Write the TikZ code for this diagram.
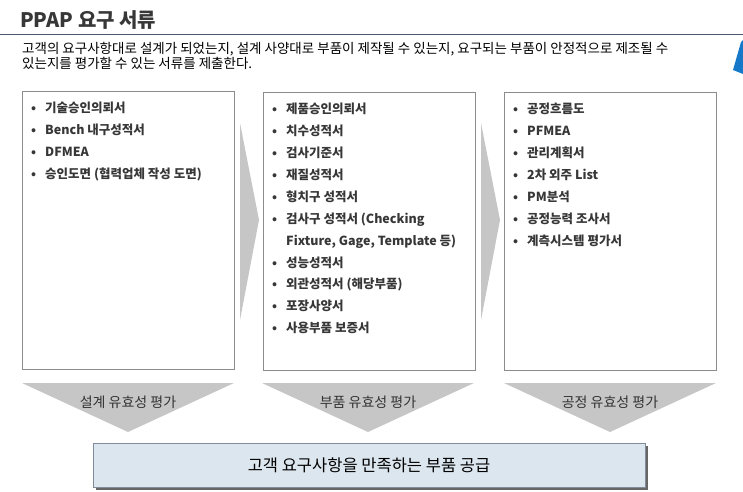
\documentclass[tikz,border=0pt]{standalone}
\usepackage{fontspec}
\setmainfont{Noto Sans CJK KR}
\usetikzlibrary{shadows}
\definecolor{inkgray}{RGB}{55,55,55}
\definecolor{framegray}{RGB}{140,140,140}
\definecolor{arrowgray}{RGB}{198,198,198}
\definecolor{rulegray}{RGB}{75,90,110}
\definecolor{paleblue}{RGB}{220,230,238}
\definecolor{tipblue}{RGB}{22,120,200}
\newcommand{\itm}[1]{\makebox[14pt][l]{\textbullet}#1}

\begin{document}
\begin{tikzpicture}[x=1pt,y=-1pt,
  docbox/.style={draw=framegray,line width=1.2pt,fill=white,minimum width=212pt,minimum height=278pt,anchor=north west},
  doclist/.style={anchor=north west,inner sep=0pt,align=left,text=inkgray,font=\bfseries\fontsize{12.5}{21.9}\selectfont},
  stage/.style={text=black!80,font=\fontsize{14}{16}\selectfont}]
  \useasboundingbox (0,0) rectangle (743,491);

  % title and intro
  \node[anchor=west,inner sep=0pt,text=inkgray,font=\bfseries\fontsize{20}{24}\selectfont] (title) at (20,20) {PPAP 요구 서류};
  \draw[rulegray,line width=1.5pt] (0,34.5) -- (743,34.5);
  \node[anchor=north west,inner sep=0pt,align=left,text=black,font=\fontsize{13.5}{15.5}\selectfont] (intro) at (22,42)
    {고객의 요구사항대로 설계가 되었는지, 설계 사양대로 부품이 제작될 수 있는지, 요구되는 부품이 안정적으로 제조될 수\\
     있는지를 평가할 수 있는 서류를 제출한다.};
  \fill[tipblue] (743,40) -- (741,42) -- (733,70) -- (743,74) -- cycle;

  % document boxes
  \node[docbox] (box1) at (22,91) {};
  \node[docbox] (box2) at (263,92) {};
  \node[docbox] (box3) at (504,92) {};

  \node[doclist] (list1) at (31,102) {\itm{기술승인의뢰서}\\ \itm{Bench 내구성적서}\\ \itm{DFMEA}\\ \itm{승인도면 (협력업체 작성 도면)}};
  \node[doclist] (list2) at (272,103) {\itm{제품승인의뢰서}\\ \itm{치수성적서}\\ \itm{검사기준서}\\ \itm{재질성적서}\\ \itm{형치구 성적서}\\
    \itm{검사구 성적서 (Checking}\\ \hspace{14pt}Fixture, Gage, Template 등)\\ \itm{성능성적서}\\ \itm{외관성적서 (해당부품)}\\
    \itm{포장사양서}\\ \itm{사용부품 보증서}};
  \node[doclist] (list3) at (513,103) {\itm{공정흐름도}\\ \itm{PFMEA}\\ \itm{관리계획서}\\ \itm{2차 외주 List}\\ \itm{PM분석}\\
    \itm{공정능력 조사서}\\ \itm{계측시스템 평가서}};

  % flow chevrons
  \fill[arrowgray] (240,123) -- (259,220) -- (240,320) -- cycle;
  \fill[arrowgray] (481,123) -- (500,220) -- (481,320) -- cycle;

  % validation steps
  \foreach \cx/\nm/\lbl in {128/design/설계 유효성 평가, 368/part/부품 유효성 평가, 610/process/공정 유효성 평가} {
    \fill[arrowgray] (\cx-106,383) -- (\cx+106,383) -- (\cx,432) -- cycle;
    \node[stage] (\nm) at (\cx,402) {\lbl};
  }

  \node[draw=rulegray!70,line width=1pt,fill=paleblue,minimum width=552pt,minimum height=44pt,
    drop shadow={shadow xshift=3pt,shadow yshift=-3pt,fill=black!60,opacity=1},
    text=black,font=\fontsize{16.5}{18}\selectfont] (supply) at (369,465) {고객 요구사항을 만족하는 부품 공급};
\end{tikzpicture}
\end{document}
